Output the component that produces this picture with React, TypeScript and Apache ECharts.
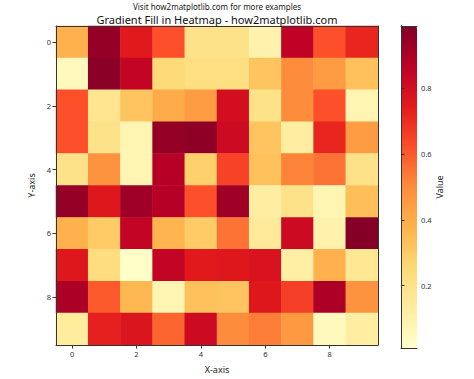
import React, { useEffect, useRef } from "react";
import * as echarts from "echarts";

const xCategories = ["0", "1", "2", "3", "4", "5", "6", "7", "8", "9"];
const yCategories = ["0", "1", "2", "3", "4", "5", "6", "7", "8", "9"];

const row0 = [0.38, 0.95, 0.75, 0.62, 0.2, 0.2, 0.1, 0.86, 0.62, 0.72];
const row1 = [0.05, 0.97, 0.85, 0.25, 0.22, 0.22, 0.32, 0.5, 0.45, 0.33];
const row2 = [0.62, 0.18, 0.32, 0.4, 0.45, 0.8, 0.2, 0.5, 0.62, 0.08];
const row3 = [0.62, 0.2, 0.08, 0.95, 0.96, 0.82, 0.32, 0.13, 0.72, 0.45];
const row4 = [0.2, 0.48, 0.08, 0.88, 0.28, 0.65, 0.33, 0.52, 0.55, 0.2];
const row5 = [0.95, 0.76, 0.93, 0.88, 0.62, 0.93, 0.13, 0.2, 0.08, 0.34];
const row6 = [0.38, 0.3, 0.85, 0.37, 0.3, 0.55, 0.15, 0.82, 0.1, 0.98];
const row7 = [0.76, 0.23, 0.02, 0.85, 0.75, 0.76, 0.78, 0.12, 0.38, 0.17];
const row8 = [0.9, 0.6, 0.36, 0.08, 0.33, 0.32, 0.76, 0.66, 0.9, 0.48];
const row9 = [0.14, 0.73, 0.77, 0.58, 0.82, 0.5, 0.53, 0.46, 0.05, 0.13];
const rows = [row0, row1, row2, row3, row4, row5, row6, row7, row8, row9];

const colorbarTicks = [0.2, 0.4, 0.6, 0.8];
const valueMin = 0.01;
const valueMax = 0.99;

const ylOrRd = ["#ffffcc", "#ffeda0", "#fed976", "#feb24c", "#fd8d3c", "#fc4e2a", "#e31a1c", "#bd0026", "#800026"];

const FONT = "Noto Sans";

export default function App() {
  const ref = useRef<HTMLDivElement>(null);
  useEffect(() => {
    if (!ref.current) return;
    const chart = echarts.init(ref.current, undefined, { renderer: "svg" });
    const data: number[][] = [];
    rows.forEach((r, yi) => r.forEach((v, xi) => data.push([xi, yi, v])));
    const spine = { show: true, lineStyle: { color: "#333", width: 1 } };
    const hidden = { show: false };
    chart.setOption({
      animation: false,
      backgroundColor: "#fff",
      textStyle: { fontFamily: FONT },
      title: [
        { text: "Visit how2matplotlib.com for more examples", left: 217, top: 1.5, padding: 0, textAlign: "center", textStyle: { fontSize: 8, lineHeight: 9, fontWeight: "normal", color: "#222", fontFamily: FONT } },
        { text: "Gradient Fill in Heatmap - how2matplotlib.com", left: 217, top: 14, padding: 0, textAlign: "center", textStyle: { fontSize: 11, lineHeight: 11, fontWeight: "normal", color: "#111", fontFamily: FONT } },
      ],
      grid: [
        { left: 56, top: 26, width: 322, height: 322 },
        { left: 401, top: 26, width: 16, height: 322 },
      ],
      xAxis: [
        {
          type: "category", data: xCategories, gridIndex: 0, z: 5,
          axisLine: spine,
          axisTick: { show: true, interval: 1, alignWithLabel: true, length: 3.5, lineStyle: { color: "#333" } },
          axisLabel: { interval: 1, fontSize: 7.5, color: "#333", margin: 5, fontFamily: FONT },
          splitLine: hidden,
          name: "X-axis", nameLocation: "middle", nameGap: 20, nameTextStyle: { fontSize: 9, color: "#222", fontFamily: FONT },
        },
        { type: "category", data: xCategories, gridIndex: 0, position: "top", z: 5, axisLine: spine, axisTick: hidden, axisLabel: hidden },
        { type: "value", gridIndex: 1, z: 5, axisLine: spine, axisTick: hidden, axisLabel: hidden, splitLine: hidden },
        { type: "value", gridIndex: 1, position: "top", z: 5, axisLine: spine, axisTick: hidden, axisLabel: hidden, splitLine: hidden },
      ],
      yAxis: [
        {
          type: "category", data: yCategories, gridIndex: 0, inverse: true, z: 5,
          axisLine: spine,
          axisTick: { show: true, interval: 1, alignWithLabel: true, length: 3.5, lineStyle: { color: "#333" } },
          axisLabel: { interval: 1, fontSize: 7.5, color: "#333", margin: 5, fontFamily: FONT },
          splitLine: hidden,
          name: "Y-axis", nameLocation: "middle", nameGap: 13.5, nameTextStyle: { fontSize: 9, color: "#222", fontFamily: FONT },
        },
        { type: "category", data: yCategories, gridIndex: 0, inverse: true, position: "right", z: 5, axisLine: spine, axisTick: hidden, axisLabel: hidden },
        {
          type: "value", gridIndex: 1, position: "right", min: valueMin, max: valueMax, z: 5,
          axisLine: spine,
          axisTick: { show: true, customValues: colorbarTicks, length: 3.5, lineStyle: { color: "#333" } },
          axisLabel: { customValues: colorbarTicks, fontSize: 7.5, color: "#333", margin: 4, fontFamily: FONT, formatter: (v: number) => v.toFixed(1) },
          splitLine: hidden,
          name: "Value", nameLocation: "middle", nameGap: 16.5, nameTextStyle: { fontSize: 9, color: "#222", fontFamily: FONT },
        },
        { type: "value", gridIndex: 1, position: "left", min: valueMin, max: valueMax, z: 5, axisLine: spine, axisTick: hidden, axisLabel: hidden, splitLine: hidden },
      ],
      visualMap: {
        type: "continuous", min: valueMin, max: valueMax, seriesIndex: 0,
        orient: "vertical", left: 401, top: 26, itemWidth: 16, itemHeight: 322,
        padding: 0, calculable: false, text: null, inRange: { color: ylOrRd },
        hoverLink: false,
      },
      series: [
        { type: "heatmap", xAxisIndex: 0, yAxisIndex: 0, data, itemStyle: { borderWidth: 0 }, emphasis: { disabled: true } },
      ],
    });
    return () => chart.dispose();
  }, []);
  return <div ref={ref} style={{ width: 474, height: 379, position: "absolute", left: 0, top: 0 }} />;
}
